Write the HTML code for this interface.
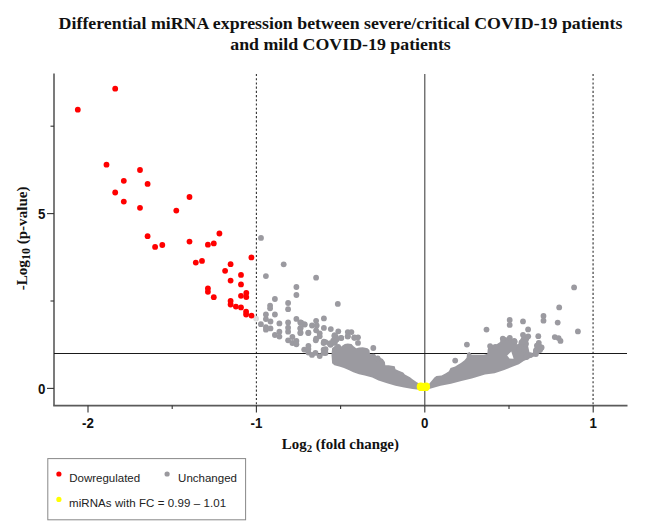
<!DOCTYPE html>
<html><head><meta charset="utf-8"><style>
html,body{margin:0;padding:0;background:#fff;width:669px;height:529px;overflow:hidden;}
svg{display:block;}
</style></head><body>
<svg width="669" height="529" viewBox="0 0 669 529" style="font-family:'Liberation Sans',sans-serif">
<line x1="54" y1="73.5" x2="54" y2="405.6" stroke="#5a5a5a" stroke-width="1.6"/>
<line x1="53.2" y1="405.6" x2="627.5" y2="405.6" stroke="#5a5a5a" stroke-width="1.6"/>
<line x1="47.0" y1="388.4" x2="54" y2="388.4" stroke="#333" stroke-width="1.1"/>
<line x1="47.0" y1="213.6" x2="54" y2="213.6" stroke="#333" stroke-width="1.1"/>
<line x1="50.5" y1="301.0" x2="54" y2="301.0" stroke="#333" stroke-width="1.1"/>
<line x1="50.5" y1="126.2" x2="54" y2="126.2" stroke="#333" stroke-width="1.1"/>
<line x1="88.0" y1="405.6" x2="88.0" y2="412.6" stroke="#333" stroke-width="1.1"/>
<line x1="256.4" y1="405.6" x2="256.4" y2="412.6" stroke="#333" stroke-width="1.1"/>
<line x1="424.8" y1="405.6" x2="424.8" y2="412.6" stroke="#333" stroke-width="1.1"/>
<line x1="593.2" y1="405.6" x2="593.2" y2="412.6" stroke="#333" stroke-width="1.1"/>
<line x1="172.2" y1="405.6" x2="172.2" y2="409.1" stroke="#333" stroke-width="1.1"/>
<line x1="340.6" y1="405.6" x2="340.6" y2="409.1" stroke="#333" stroke-width="1.1"/>
<line x1="509.0" y1="405.6" x2="509.0" y2="409.1" stroke="#333" stroke-width="1.1"/>
<line x1="256.4" y1="74" x2="256.4" y2="405" stroke="#333" stroke-width="1.1" stroke-dasharray="2.1 2.108"/>
<line x1="593.1" y1="74" x2="593.1" y2="405" stroke="#666" stroke-width="1.5" stroke-dasharray="2.1 2.108"/>
<line x1="424.8" y1="74" x2="424.8" y2="405" stroke="#444" stroke-width="1.1"/>
<line x1="54" y1="353.45" x2="627" y2="353.45" stroke="#1a1a1a" stroke-width="1.05"/>
<g fill="#9b9aa0">
<polygon points="332.1,348.2 334.4,346.3 337.3,344.4 340.6,347.0 342.5,345.4 344.8,344.0 347.7,343.5 351.5,344.0 353.3,345.9 356.2,348.2 359.0,347.6 362.8,347.3 367.5,348.2 369.4,350.1 370.0,353.9 372.6,354.7 375.1,356.0 376.8,358.6 379.4,357.2 382.8,358.9 384.9,361.9 385.3,365.3 388.7,365.3 394.7,366.2 395.5,369.3 398.9,370.8 403.2,372.5 404.9,374.4 410.0,377.2 412.5,379.3 416.8,382.3 420.0,384.0 420.0,389.6 416.8,389.5 412.5,389.1 404.0,387.4 395.5,385.7 387.0,383.2 378.5,380.6 372.2,377.5 364.7,375.6 359.0,374.2 353.3,372.3 348.6,370.0 343.9,368.1 340.1,366.7 334.4,365.2 332.1,363.3 331.5,355.0"/>
<polygon points="429.2,383.7 434.4,377.4 436.4,375.9 441.6,375.4 445.8,373.3 448.9,371.2 450.5,368.1 455.2,366.5 458.3,364.4 460.9,362.9 464.5,360.3 466.6,357.7 467.1,353.0 469.7,352.0 471.6,354.7 483.9,354.7 487.3,353.8 487.7,349.6 489.0,344.5 492.4,344.9 495.5,344.9 500.1,341.9 500.9,337.6 503.3,336.7 507.2,337.6 509.6,336.2 513.0,339.6 516.4,341.0 516.9,344.4 519.4,343.0 520.3,339.6 522.8,334.2 525.7,334.7 530.5,336.2 528.1,342.0 528.1,345.9 529.6,352.7 532.5,353.2 535.4,345.4 538.3,341.5 541.7,344.4 544.1,348.3 542.2,352.2 537.3,354.2 535.4,356.1 531.5,357.6 523.7,361.0 518.9,364.2 513.0,366.6 504.3,370.0 494.6,373.2 485.0,374.5 471.8,378.5 461.4,381.1 451.0,383.7 440.6,385.8 429.2,388.9"/>
<polygon fill="#fff" points="507.2,355.6 511.3,351.6 513.6,358.8 509.5,358.6"/>
<circle cx="261.0" cy="237.9" r="2.9"/><circle cx="283.7" cy="264.3" r="2.9"/><circle cx="265.9" cy="276.1" r="2.9"/><circle cx="316.1" cy="277.7" r="2.9"/><circle cx="296.4" cy="287.0" r="2.9"/><circle cx="296.4" cy="295.0" r="2.9"/><circle cx="274.9" cy="299.0" r="2.9"/><circle cx="288.1" cy="303.0" r="2.9"/><circle cx="288.1" cy="309.2" r="2.9"/><circle cx="270.1" cy="305.6" r="2.9"/><circle cx="270.1" cy="308.3" r="2.9"/><circle cx="265.9" cy="314.5" r="2.9"/><circle cx="274.9" cy="314.5" r="2.9"/><circle cx="265.9" cy="319.1" r="2.9"/><circle cx="270.5" cy="321.5" r="2.9"/><circle cx="260.9" cy="324.2" r="2.9"/><circle cx="265.9" cy="327.1" r="2.9"/><circle cx="265.9" cy="329.7" r="2.9"/><circle cx="270.5" cy="328.4" r="2.9"/><circle cx="279.4" cy="323.4" r="2.9"/><circle cx="279.4" cy="331.7" r="2.9"/><circle cx="274.9" cy="335.0" r="2.9"/><circle cx="279.4" cy="336.6" r="2.9"/><circle cx="288.1" cy="322.5" r="2.9"/><circle cx="288.1" cy="327.7" r="2.9"/><circle cx="288.1" cy="331.7" r="2.9"/><circle cx="288.1" cy="340.3" r="2.9"/><circle cx="292.4" cy="337.0" r="2.9"/><circle cx="292.4" cy="343.0" r="2.9"/><circle cx="296.4" cy="341.0" r="2.9"/><circle cx="296.4" cy="344.3" r="2.9"/><circle cx="296.4" cy="318.9" r="2.9"/><circle cx="300.3" cy="322.5" r="2.9"/><circle cx="300.3" cy="328.4" r="2.9"/><circle cx="300.3" cy="333.0" r="2.9"/><circle cx="304.3" cy="324.4" r="2.9"/><circle cx="308.3" cy="333.0" r="2.9"/><circle cx="323.9" cy="318.4" r="2.9"/><circle cx="316.1" cy="320.8" r="2.9"/><circle cx="304.8" cy="324.4" r="2.9"/><circle cx="301.2" cy="322.6" r="2.9"/><circle cx="300.6" cy="327.9" r="2.9"/><circle cx="300.6" cy="332.7" r="2.9"/><circle cx="312.0" cy="325.5" r="2.9"/><circle cx="316.7" cy="325.5" r="2.9"/><circle cx="316.1" cy="330.3" r="2.9"/><circle cx="323.9" cy="327.9" r="2.9"/><circle cx="308.4" cy="332.7" r="2.9"/><circle cx="319.7" cy="333.3" r="2.9"/><circle cx="319.7" cy="336.3" r="2.9"/><circle cx="316.1" cy="338.7" r="2.9"/><circle cx="323.9" cy="341.7" r="2.9"/><circle cx="330.8" cy="329.1" r="2.9"/><circle cx="338.3" cy="331.3" r="2.9"/><circle cx="334.7" cy="335.1" r="2.9"/><circle cx="335.9" cy="337.5" r="2.9"/><circle cx="341.3" cy="338.1" r="2.9"/><circle cx="331.1" cy="343.5" r="2.9"/><circle cx="334.7" cy="342.9" r="2.9"/><circle cx="347.8" cy="332.1" r="2.9"/><circle cx="351.4" cy="332.1" r="2.9"/><circle cx="347.8" cy="336.3" r="2.9"/><circle cx="354.4" cy="337.5" r="2.9"/><circle cx="358.0" cy="337.3" r="2.9"/><circle cx="358.0" cy="342.9" r="2.9"/><circle cx="304.2" cy="349.6" r="2.9"/><circle cx="308.4" cy="346.0" r="2.9"/><circle cx="308.4" cy="349.0" r="2.9"/><circle cx="308.4" cy="352.6" r="2.9"/><circle cx="312.0" cy="354.9" r="2.9"/><circle cx="315.5" cy="352.9" r="2.9"/><circle cx="319.7" cy="356.1" r="2.9"/><circle cx="323.6" cy="349.6" r="2.9"/><circle cx="323.6" cy="352.9" r="2.9"/><circle cx="323.6" cy="343.0" r="2.9"/><circle cx="330.5" cy="344.8" r="2.9"/><circle cx="334.7" cy="341.8" r="2.9"/><circle cx="315.8" cy="340.3" r="2.9"/><circle cx="325.5" cy="342.1" r="2.9"/><circle cx="329.7" cy="343.5" r="2.9"/><circle cx="325.5" cy="349.2" r="2.9"/><circle cx="325.5" cy="353.0" r="2.9"/><circle cx="335.4" cy="336.4" r="2.9"/><circle cx="341.1" cy="337.8" r="2.9"/><circle cx="347.7" cy="336.4" r="2.9"/><circle cx="354.3" cy="337.8" r="2.9"/><circle cx="338.2" cy="346.8" r="2.9"/><circle cx="334.3" cy="335.8" r="2.9"/><circle cx="333.2" cy="340.6" r="2.9"/><circle cx="336.6" cy="339.6" r="2.9"/><circle cx="373.3" cy="348.0" r="2.9"/><circle cx="373.2" cy="356.6" r="2.9"/><circle cx="377.7" cy="358.4" r="2.9"/><circle cx="337.8" cy="303.9" r="2.9"/><circle cx="486.5" cy="329.6" r="2.9"/><circle cx="466.9" cy="344.6" r="2.9"/><circle cx="455.2" cy="360.6" r="2.9"/><circle cx="509.7" cy="320.0" r="2.9"/><circle cx="509.7" cy="324.9" r="2.9"/><circle cx="523.0" cy="321.4" r="2.9"/><circle cx="528.1" cy="329.4" r="2.9"/><circle cx="538.3" cy="336.2" r="2.9"/><circle cx="523.0" cy="334.8" r="2.9"/><circle cx="528.2" cy="336.3" r="2.9"/><circle cx="502.8" cy="338.6" r="2.9"/><circle cx="509.8" cy="337.8" r="2.9"/><circle cx="514.7" cy="341.6" r="2.9"/><circle cx="521.5" cy="342.3" r="2.9"/><circle cx="526.0" cy="343.8" r="2.9"/><circle cx="490.1" cy="346.1" r="2.9"/><circle cx="495.3" cy="346.8" r="2.9"/><circle cx="538.8" cy="342.8" r="2.9"/><circle cx="536.9" cy="345.6" r="2.9"/><circle cx="541.6" cy="347.5" r="2.9"/><circle cx="535.9" cy="350.3" r="2.9"/><circle cx="535.9" cy="354.1" r="2.9"/><circle cx="522.7" cy="341.8" r="2.9"/><circle cx="514.2" cy="340.9" r="2.9"/><circle cx="518.9" cy="349.4" r="2.9"/><circle cx="524.6" cy="349.4" r="2.9"/><circle cx="530.2" cy="355.1" r="2.9"/><circle cx="526.5" cy="357.0" r="2.9"/><circle cx="574.1" cy="287.4" r="2.9"/><circle cx="559.2" cy="307.4" r="2.9"/><circle cx="543.5" cy="315.9" r="2.9"/><circle cx="543.5" cy="320.7" r="2.9"/><circle cx="557.7" cy="322.6" r="2.9"/><circle cx="577.9" cy="331.4" r="2.9"/><circle cx="554.8" cy="337.1" r="2.9"/><circle cx="558.6" cy="338.1" r="2.9"/><circle cx="560.5" cy="340.9" r="2.9"/>
</g>
<circle cx="256.1" cy="318.6" r="2.9" fill="#dcdcdc"/>
<g fill="#f00"><circle cx="77.8" cy="109.7" r="2.9"/><circle cx="115.2" cy="88.7" r="2.9"/><circle cx="106.5" cy="164.7" r="2.9"/><circle cx="140.0" cy="170.0" r="2.9"/><circle cx="123.8" cy="180.8" r="2.9"/><circle cx="147.6" cy="183.9" r="2.9"/><circle cx="115.2" cy="192.5" r="2.9"/><circle cx="123.8" cy="201.6" r="2.9"/><circle cx="140.0" cy="207.8" r="2.9"/><circle cx="189.5" cy="197.0" r="2.9"/><circle cx="176.3" cy="210.6" r="2.9"/><circle cx="147.6" cy="236.2" r="2.9"/><circle cx="155.1" cy="246.9" r="2.9"/><circle cx="162.3" cy="245.0" r="2.9"/><circle cx="189.5" cy="241.6" r="2.9"/><circle cx="219.4" cy="233.5" r="2.9"/><circle cx="207.9" cy="244.7" r="2.9"/><circle cx="213.8" cy="243.4" r="2.9"/><circle cx="195.8" cy="262.6" r="2.9"/><circle cx="202.0" cy="260.9" r="2.9"/><circle cx="230.6" cy="264.2" r="2.9"/><circle cx="225.1" cy="270.8" r="2.9"/><circle cx="251.4" cy="257.4" r="2.9"/><circle cx="241.0" cy="274.9" r="2.9"/><circle cx="230.6" cy="280.6" r="2.9"/><circle cx="241.0" cy="284.4" r="2.9"/><circle cx="207.9" cy="288.5" r="2.9"/><circle cx="207.9" cy="291.8" r="2.9"/><circle cx="213.8" cy="297.2" r="2.9"/><circle cx="246.3" cy="292.9" r="2.9"/><circle cx="241.0" cy="295.8" r="2.9"/><circle cx="246.3" cy="297.1" r="2.9"/><circle cx="230.6" cy="300.9" r="2.9"/><circle cx="230.6" cy="304.5" r="2.9"/><circle cx="235.9" cy="306.6" r="2.9"/><circle cx="241.0" cy="307.4" r="2.9"/><circle cx="246.1" cy="311.7" r="2.9"/><circle cx="246.1" cy="314.5" r="2.9"/><circle cx="251.5" cy="315.6" r="2.9"/></g>
<g fill="#ffff00"><circle cx="420.8" cy="386.7" r="4.1"/><circle cx="426.0" cy="386.7" r="4.1"/><rect x="418.5" y="386.5" width="10" height="4.4" rx="1.5"/></g>
<g font-family="Liberation Sans" font-weight="bold" font-size="13.3" fill="#111"><text transform="translate(88.0,428) scale(1,1.1)" text-anchor="middle">-2</text><text transform="translate(256.4,428) scale(1,1.1)" text-anchor="middle">-1</text><text transform="translate(424.8,428) scale(1,1.1)" text-anchor="middle">0</text><text transform="translate(593.2,428) scale(1,1.1)" text-anchor="middle">1</text><text transform="translate(45.5,219.0) scale(1,1.1)" text-anchor="end">5</text><text transform="translate(45.5,393.8) scale(1,1.1)" text-anchor="end">0</text></g>
<g font-family="Liberation Serif" font-weight="bold" fill="#111" text-anchor="middle">
<text transform="translate(340.5,28.85) scale(1,0.9)" font-size="17.85">Differential miRNA expression between severe/critical COVID-19 patients</text>
<text transform="translate(340.5,49.75) scale(1,0.9)" font-size="17.85">and mild COVID-19 patients</text>
<text x="340.4" y="449" font-size="14.9">Log<tspan font-size="10.8" dy="3.2">2</tspan><tspan dy="-3.2"> (fold change)</tspan></text>
<text transform="translate(26.8,290.3) rotate(-90)" text-anchor="start" font-size="15.1">-Log<tspan font-size="12" dy="3.4">10</tspan><tspan dy="-3.4"> (p-value)</tspan></text>
</g>
<rect x="47.8" y="458.6" width="197.8" height="61.2" fill="none" stroke="#888" stroke-width="1"/>
<circle cx="58.9" cy="474" r="2.6" fill="#f00"/>
<circle cx="167.1" cy="474" r="2.6" fill="#9a999e"/>
<circle cx="58.9" cy="499.4" r="2.6" fill="#ffff00"/>
<g font-family="Liberation Sans" font-size="11.5" fill="#222">
<text x="69.2" y="482">Dowregulated</text>
<text x="178.1" y="482">Unchanged</text>
<text x="69" y="506.6" letter-spacing="0.08">miRNAs with FC = 0.99 – 1.01</text>
</g>
</svg>
</body></html>
